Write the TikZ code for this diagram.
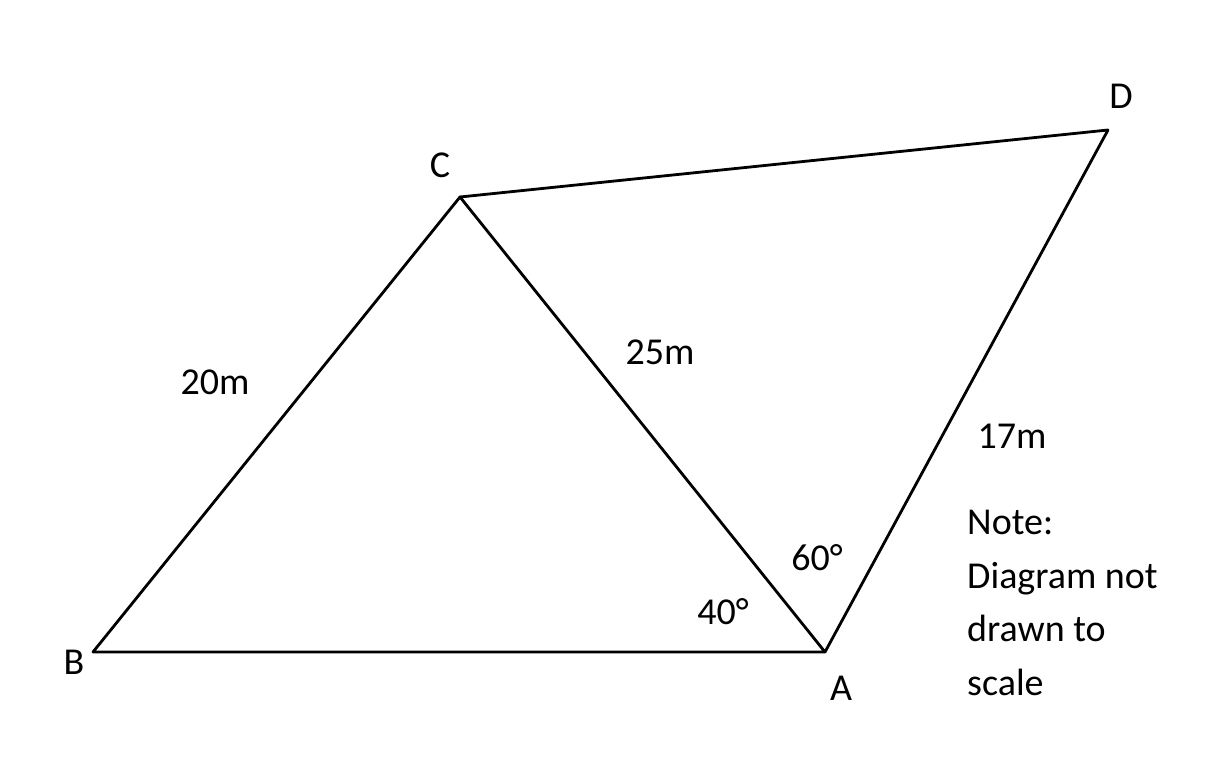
\documentclass[tikz,border=0pt]{standalone}
\usepackage{fontspec}
\setmainfont{Carlito}
\begin{document}
\begin{tikzpicture}[x=1pt,y=-1pt,
  edge/.style={line width=2.8pt,line cap=round,line join=round},
  lab/.style={font=\fontsize{38}{46}\selectfont,inner sep=0pt},
  vlab/.style={font=\fontsize{38}{46}\selectfont,inner sep=0pt}]
\useasboundingbox[fill=white] (0,0) rectangle (1210,778);
\coordinate (A) at (825,652);
\coordinate (B) at (93,652);
\coordinate (C) at (460,197);
\coordinate (D) at (1108,130);
\draw[edge] (B) -- (A) -- (C) -- cycle;
\draw[edge] (C) -- (D) -- (A);
\node[vlab] (lC) at (440,165) {C};
\node[vlab] (lD) at (1121,96) {D};
\node[vlab] (lB) at (74,662) {B};
\node[vlab] (lA) at (841,688) {A};
\node[lab] (l20) at (215,382) {20m};
\node[lab] (l25) at (660,352) {25m};
\node[lab] (l17) at (1012,436) {17m};
\node[lab] (l60) at (817,558) {60°};
\node[lab] (l40) at (723,612) {40°};
\node[lab,anchor=north west,align=left,font=\fontsize{38}{53.5}\selectfont] (note) at (967,510) {Note:\\Diagram not\\drawn to\\scale};
\end{tikzpicture}
\end{document}
